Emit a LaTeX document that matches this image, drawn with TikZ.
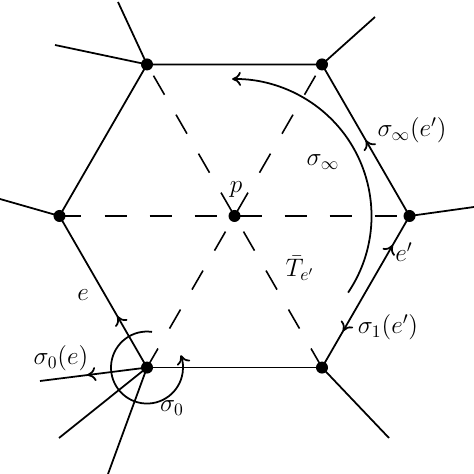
\documentclass[tikz,border=0pt]{standalone}
\usetikzlibrary{calc}
\usetikzlibrary{positioning}
\usetikzlibrary{arrows.meta,decorations.markings}
\tikzset{
	>={To[length=5pt,width=8pt]},
	punkt/.style={
		circle,
		fill=black,
		inner sep=0pt,
		minimum size=0.24cm},
	kante/.style={draw, line width=1pt},
	diagonale/.style={draw, line width=0.9pt, dash pattern=on 0.44cm off 0.46cm},
	pfeil/.style={postaction={decorate,
		decoration={markings, mark=at position #1 with {\arrow{>}}}}},
	rueckpfeil/.style={postaction={decorate,
		decoration={markings, mark=at position #1 with {\arrowreversed{>}}}}},
	etikett/.style={inner sep=1pt},
}

\begin{document}
\begin{tikzpicture}
		[line width=1pt, font=\Large]
		\useasboundingbox (-4.69,-5.16) rectangle (4.79,4.32);
		% Sechseck
		\node[punkt] (p) at (0,0) {};
		\node[punkt] (v0) at (0:3.5) {};
		\node[punkt] (v1) at (60:3.5) {};
		\node[punkt] (v2) at (120:3.5) {};
		\node[punkt] (v3) at (180:3.5) {};
		\node[punkt] (v4) at (240:3.5) {};
		\node[punkt] (v5) at (300:3.5) {};
		\coordinate (aus0) at (4.79,0.18);
		\coordinate (aus1) at (2.81,3.98);
		\coordinate (aus2a) at (-2.33,4.28);
		\coordinate (aus2b) at (-3.59,3.42);
		\coordinate (aus3) at (-4.69,0.34);
		\coordinate (aus4a) at (-3.89,-3.30);
		\coordinate (aus4b) at (-3.51,-4.44);
		\coordinate (aus4c) at (-2.53,-5.16);
		\coordinate (aus5) at (3.09,-4.44);
		\draw[diagonale] (v3.center) -- (v0.center);
		\draw[diagonale] (v4.center) -- (v1.center);
		\draw[diagonale] (v5.center) -- (v2.center);
		\draw[kante, pfeil=0.5] (v0.center) -- (v1.center);
		\draw[kante] (v1.center) -- (v2.center) -- (v3.center);
		\draw[kante, pfeil=0.34] (v4.center) -- (v3.center);
		\draw[kante] (v4.center) -- (v5.center);
		\draw[kante, pfeil=0.81, rueckpfeil=0.24] (v5.center) -- (v0.center);
		\draw[kante] (v0.center) -- (aus0);
		\draw[kante] (v1.center) -- (aus1);
		\draw[kante] (v2.center) -- (aus2a);
		\draw[kante] (v2.center) -- (aus2b);
		\draw[kante] (v3.center) -- (aus3);
		\draw[kante, pfeil=0.56] (v4.center) -- (aus4a);
		\draw[kante] (v4.center) -- (aus4b);
		\draw[kante] (v4.center) -- (aus4c);
		\draw[kante] (v5.center) -- (aus5);
		% Drehungen
		\draw[->] ([shift={(-34:2.74)}]p.center) arc (-34:91:2.74);
		\draw[->] ([shift={(82:0.72)}]v4.center) arc (82:380:0.72);
		% Beschriftungen
		\node[etikett] (lp) at (0.03,0.52) {$p$};
		\node[etikett] (le) at (-3.03,-1.58) {$e$};
		\node[etikett] (lse) at (-3.47,-2.84) {$\sigma_0(e)$};
		\node[etikett] (ls0) at (-1.25,-3.84) {$\sigma_0$};
		\node[etikett] (lsie) at (3.55,1.72) {$\sigma_\infty(e')$};
		\node[etikett] (lsi) at (1.77,1.08) {$\sigma_\infty$};
		\node[etikett] (lep) at (3.39,-0.72) {$e'$};
		\node[etikett] (ls1e) at (3.07,-2.22) {$\sigma_1(e')$};
		\node[etikett] (lt) at (1.31,-1.04) {$\bar{T}_{e'}$};
\end{tikzpicture}
\end{document}
